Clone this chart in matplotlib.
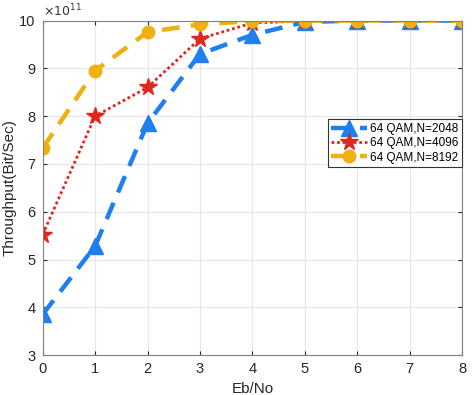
import matplotlib
matplotlib.use("Agg")
import matplotlib.pyplot as plt

plt.rcParams['font.family'] = ['Liberation Sans', 'DejaVu Sans']

eb_no = [0, 1, 2, 3, 4, 5, 6, 7, 8]
tp_2048 = [3.85e11, 5.28e11, 7.85e11, 9.30e11, 9.70e11, 9.97e11, 10.0e11, 10.0e11, 10.0e11]
tp_4096 = [5.52e11, 8.00e11, 8.60e11, 9.62e11, 9.95e11, 9.99e11, 10.0e11, 10.0e11, 10.0e11]
tp_8192 = [7.33e11, 8.95e11, 9.76e11, 9.92e11, 9.99e11, 10.0e11, 10.0e11, 10.0e11, 10.0e11]
labels = ['64 QAM,N=2048', '64 QAM,N=4096', '64 QAM,N=8192']

fig = plt.figure(figsize=(4.74, 3.95), dpi=100)
ax = fig.add_axes([0.09, 0.101, 0.885, 0.847])

ax.plot(eb_no, tp_2048, color='#1f7ff0', lw=3.2, ls=(0, (4, 2.5)),
        marker='^', ms=11, label=labels[0])
ax.plot(eb_no, tp_4096, color='#e3261c', lw=2, ls=(0, (1, 1)),
        marker='*', ms=13, label=labels[1])
ax.plot(eb_no, tp_8192, color='#f0b010', lw=3.2, ls=(0, (4, 2.5)),
        marker='o', ms=9, mfc='#f0b010', mec='#f0b010', label=labels[2])

ax.set_xlim(0, 8)
ax.set_ylim(3e11, 10e11)
ax.set_xticks(range(0, 9))
ax.set_yticks([i * 1e11 for i in range(3, 11)])
ax.set_yticklabels([str(i) for i in range(3, 11)])
ax.text(0.0, 1.005, r'$\times10^{11}$', transform=ax.transAxes, fontsize=9,
        color='#333333', va='bottom', ha='left')

ax.grid(True, color='#e6e6e6', lw=0.8)
ax.set_axisbelow(True)
for s in ax.spines.values():
    s.set_color('#808080')
ax.tick_params(colors='#262626', labelsize=10.5, direction='in', length=3,
               top=True, right=True, pad=5)

ax.set_xlabel('Eb/No', fontsize=11, color='#262626')
ax.set_ylabel('Throughput(Bit/Sec)', fontsize=11, color='#262626', labelpad=2)

leg = ax.legend(loc='upper right', bbox_to_anchor=(1.0, 0.705), fontsize=8.5,
                fancybox=False, framealpha=1, edgecolor='#333333', borderaxespad=0,
                handlelength=3, borderpad=0.3, labelspacing=0.2, handletextpad=0.3)
leg.get_frame().set_linewidth(0.8)

fig.savefig('out.png', dpi=100)
